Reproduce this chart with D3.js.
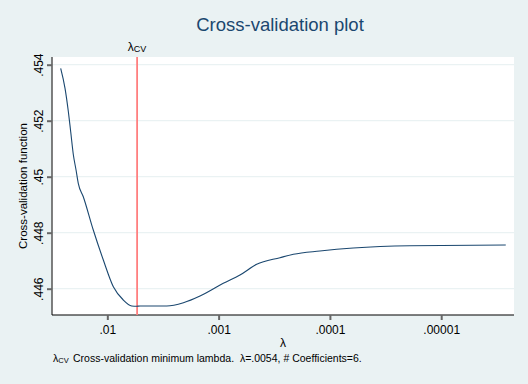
<!DOCTYPE html>
<html>
  <head>
    <title>Cross-validation plot</title>
    <script src="https://cdn.jsdelivr.net/npm/d3@7"></script>
    <style>
      body { margin: 0; background: #eaf2f3; }
      text { font-family: "Liberation Sans", Arial, sans-serif; white-space: pre; }
    </style>
  </head>
  <body>
    <svg width="528" height="384" id="mainsvg"></svg>
    <script>
      // lambda grid and the CV function
      const lambdas = [0.02624, 0.02399, 0.02239, 0.02133, 0.02018, 0.0191, 0.01824, 0.01644,
        0.01337, 0.01086, 0.00883, 0.00718, 0.00604, 0.00545, 0.00508, 0.00292, 0.00207,
        0.00147, 0.000908, 0.000643, 0.000455, 0.000281, 0.000213, 0.000123, 0.0000617,
        0.0000191, 0.00000263];
      const cvValues = [0.453871, 0.453157, 0.452321, 0.451607, 0.450775, 0.450239, 0.449764,
        0.449286, 0.448096, 0.447025, 0.446071, 0.445596, 0.445382, 0.445371, 0.445382,
        0.445382, 0.4455, 0.445739, 0.446193, 0.446489, 0.446871, 0.447107, 0.447229,
        0.447346, 0.447454, 0.447536, 0.447561];
      const xTicks = [0.01, 0.001, 0.0001, 0.00001];
      const yTicks = [0.446, 0.448, 0.45, 0.452, 0.454];
      const lambdaCV = 0.0054;

      const svg = d3.select('#mainsvg');
      const width = +svg.attr('width');
      const height = +svg.attr('height');
      const plot = {left: 52, right: 514, top: 57, bottom: 315};

      const data = lambdas.map((l, i) => ({lambda: l, cv: cvValues[i]}));
      const fmt = v => String(v).replace(/^0/, '');

      const xScale = d3.scaleLog()
        .domain([0.03141, 0.000002218])
        .range([plot.left, plot.right]);
      const yScale = d3.scaleLinear()
        .domain([0.445061, 0.454275])
        .range([plot.bottom, plot.top]);

      svg.append('rect').attr('width', width).attr('height', height).attr('fill', '#eaf2f3');
      svg.append('rect')
        .attr('x', plot.left).attr('y', plot.top)
        .attr('width', plot.right - plot.left).attr('height', plot.bottom - plot.top)
        .attr('fill', 'white');

      // horizontal gridlines
      svg.append('g').selectAll('line').data(yTicks).enter().append('line')
        .attr('x1', plot.left).attr('x2', plot.right)
        .attr('y1', d => yScale(d)).attr('y2', d => yScale(d))
        .attr('stroke', '#eaf2f3').attr('stroke-width', 1.2);

      // y axis
      const yAxis = d3.axisLeft(yScale).tickValues(yTicks).tickFormat(fmt).tickSize(5).tickPadding(4);
      const yAxisGroup = svg.append('g')
        .attr('transform', `translate(${plot.left}, 0)`)
        .call(yAxis);
      yAxisGroup.select('.domain').attr('stroke', '#555').attr('stroke-width', 1.5)
        .attr('d', `M0,${plot.top}V${plot.bottom}`);
      yAxisGroup.selectAll('.tick line').attr('stroke', '#666').attr('stroke-width', 2);
      yAxisGroup.selectAll('.tick text')
        .attr('font-size', 12).attr('fill', 'black')
        .attr('text-anchor', 'middle')
        .attr('x', 0).attr('dy', 0)
        .attr('transform', 'translate(-9,0) rotate(-90)');

      // x axis
      const xAxis = d3.axisBottom(xScale).tickValues(xTicks).tickFormat(fmt).tickSize(5).tickPadding(5);
      const xAxisGroup = svg.append('g')
        .attr('transform', `translate(0, ${plot.bottom})`)
        .call(xAxis);
      xAxisGroup.select('.domain').attr('stroke', 'black').attr('stroke-width', 1.2)
        .attr('d', `M${plot.left},0H${plot.right}`);
      xAxisGroup.selectAll('.tick line').attr('stroke', '#666').attr('stroke-width', 2);
      xAxisGroup.selectAll('.tick text').attr('font-size', 12).attr('fill', 'black');

      // CV minimum line
      svg.append('line')
        .attr('x1', xScale(lambdaCV)).attr('x2', xScale(lambdaCV))
        .attr('y1', plot.top).attr('y2', plot.bottom)
        .attr('stroke', '#ff7f7f').attr('stroke-width', 1.8);
      const cvLabel = svg.append('text')
        .attr('x', xScale(lambdaCV)).attr('y', 51)
        .attr('text-anchor', 'middle').attr('font-size', 12);
      cvLabel.append('tspan').text('λ');
      cvLabel.append('tspan').attr('font-size', 9).attr('dy', 1).text('CV');

      // CV function curve
      const line = d3.line()
        .x(d => xScale(d.lambda))
        .y(d => yScale(d.cv))
        .curve(d3.curveMonotoneX);
      svg.append('path').datum(data)
        .attr('d', line)
        .attr('fill', 'none')
        .attr('stroke', '#1a476f')
        .attr('stroke-width', 1.1);

      // titles
      svg.append('text').text('Cross-validation plot')
        .attr('x', 280).attr('y', 31)
        .attr('text-anchor', 'middle').attr('font-size', 18.5).attr('fill', '#1a476f');
      svg.append('text').text('Cross-validation function')
        .attr('transform', `translate(27, ${(plot.top + plot.bottom) / 2}) rotate(-90)`)
        .attr('text-anchor', 'middle').attr('font-size', 11.5);
      svg.append('text').text('λ')
        .attr('x', (plot.left + plot.right) / 2).attr('y', 347)
        .attr('text-anchor', 'middle').attr('font-size', 12);

      // note
      const note = svg.append('text').attr('x', 53).attr('y', 362).attr('font-size', 10.5);
      note.append('tspan').text('λ');
      note.append('tspan').attr('font-size', 7.5).attr('dy', 1).text('CV');
      note.append('tspan').attr('x', 73).attr('dy', -1)
        .text('Cross-validation minimum lambda.  λ=.0054, # Coefficients=6.');
    </script>
  </body>
</html>
